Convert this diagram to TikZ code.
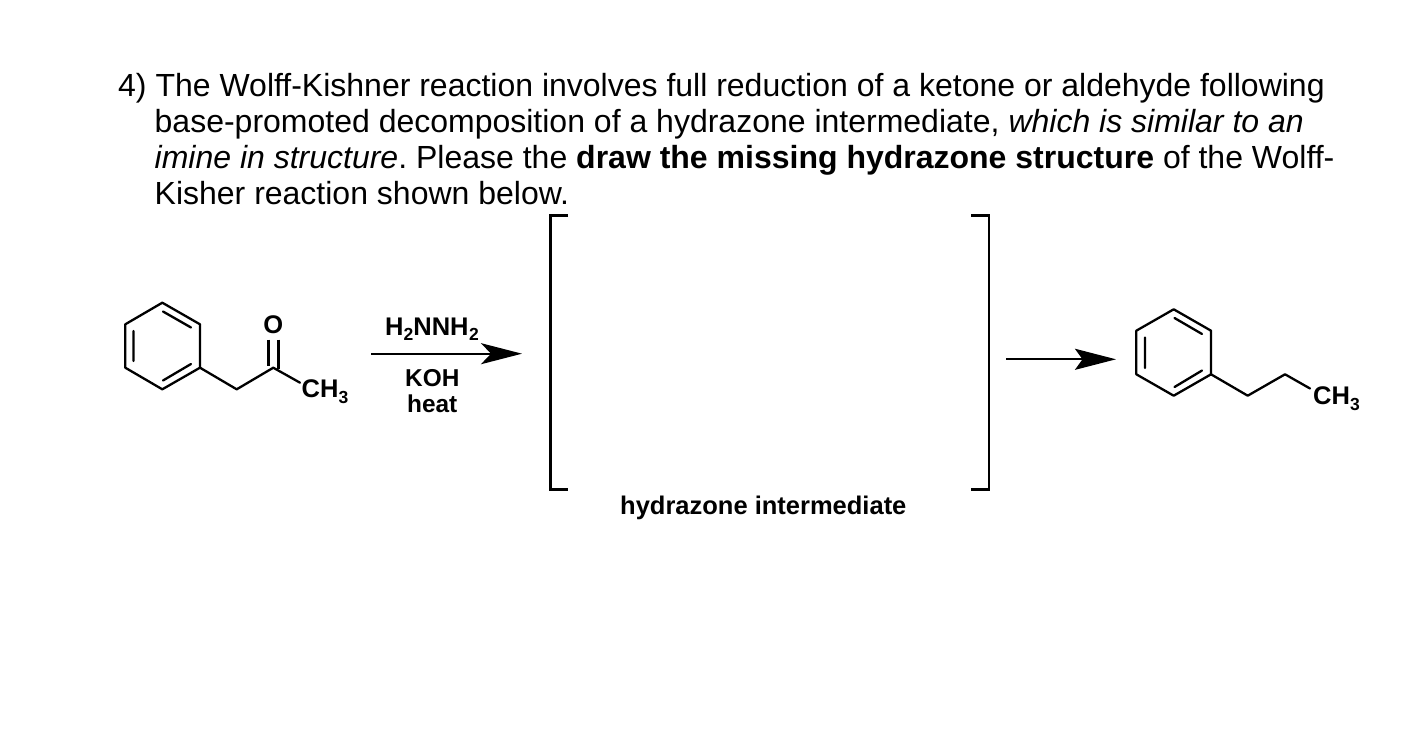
\documentclass[tikz,border=0pt]{standalone}
\usepackage{fontspec}
\setmainfont[RawFeature=-liga]{Liberation Sans}
\usetikzlibrary{arrows.meta}
\newcommand{\lowsub}[1]{\raisebox{-0.22em}{\fontsize{17.5}{18}\selectfont #1}}
\tikzset{
  x=1pt,y=-1pt,
  body/.style={anchor=base west,inner sep=0pt,font=\fontsize{32}{36}\selectfont},
  chem/.style={anchor=base west,inner sep=0pt,font=\fontsize{25.5}{28}\selectfont\bfseries},
  chemb/.style={anchor=base west,inner sep=0pt,font=\fontsize{24.4}{28}\selectfont\bfseries},
  bond/.style={line width=2.3pt,line cap=round,line join=round,black},
  bracket/.style={line width=2.6pt,line join=miter,black},
  bigarrow/.style={line width=2.3pt,-{Stealth[length=41pt,width=21pt,inset=10pt]}},
  midarrow/.style={line width=2.3pt,-{Stealth[length=41pt,width=21pt,inset=7.5pt]}}
}
\begin{document}
\frenchspacing
\begin{tikzpicture}
\useasboundingbox (0,0) rectangle (1420,738);
\fill[white] (0,0) rectangle (1420,738);
% question text
\node[body] (l1) at (118,96.5) {4) The Wolff-Kishner reaction involves full reduction of a ketone or aldehyde following};
\node[body] (l2) at (154.5,132.5) {base-promoted decomposition of a hydrazone intermediate, \itshape which is similar to an};
\node[body] (l3) at (154.5,168.5) {{\itshape imine in structure}. Please the {\bfseries draw the missing hydrazone structure} of the Wolff-};
\node[body] (l4) at (154.5,204.8) {Kisher reaction shown below.};
% left ring
\coordinate (a1) at (162.3,302.7);
\coordinate (a2) at (200,324.3);
\coordinate (a3) at (200,367.7);
\coordinate (a4) at (162.3,389.3);
\coordinate (a5) at (125.3,367.7);
\coordinate (a6) at (125.3,324.3);
\coordinate (a7) at (236.7,389.3);
\coordinate (a8) at (273.3,367.7);
\coordinate (a9) at (300,382.7);
\draw[bond] (a1)--(a2)--(a3)--(a4)--(a5)--(a6)--cycle;
\draw[bond] (a3)--(a7)--(a8)--(a9);
\coordinate (b1) at (163,311.5);\coordinate (b2) at (191,327.5);
\coordinate (b3) at (133.5,331);\coordinate (b4) at (133.5,361);
\coordinate (b5) at (163,380.5);\coordinate (b6) at (191,364);
\draw[bond] (b1)--(b2) (b3)--(b4) (b5)--(b6);
\node[chem,anchor=base] (oxy) at (273.3,333.5) {O};
\coordinate (c1) at (268.4,339.5);\coordinate (c2) at (268.4,366);
\coordinate (c3) at (278.4,339.5);\coordinate (c4) at (278.4,369);
\draw[bond,line cap=butt] (c1)--(c2) (c3)--(c4);
\node[chem] (me1) at (301.5,397.5) {CH\lowsub{3}};
% first arrow
\node[chem] (hy) at (385,335) {H\lowsub{2}NNH\kern0.5pt\lowsub{2}};
\node[chemb] (koh) at (405,386.5) {KOH};
\node[chemb] (heat) at (407,412.5) {heat};
\coordinate (r1s) at (371,353.7);\coordinate (r1e) at (522,353.7);
\draw[bigarrow] (r1s)--(r1e);
% brackets
\coordinate (p1) at (568,215.7);\coordinate (p2) at (550.7,215.7);
\coordinate (p3) at (550.7,489.3);\coordinate (p4) at (568,489.3);
\coordinate (q1) at (971,215.7);\coordinate (q2) at (989,215.7);
\coordinate (q3) at (989,489.3);\coordinate (q4) at (971,489.3);
\draw[bracket] (p1)--(p2)--(p3)--(p4);
\draw[bracket] (q1)--(q2)--(q3)--(q4);
\node[chem] (lab) at (620,514.5) {hydrazone intermediate};
% second arrow
\coordinate (r2s) at (1006,359.3);\coordinate (r2e) at (1116,359.3);
\draw[midarrow] (r2s)--(r2e);
% right ring
\coordinate (d1) at (1173.7,309.3);
\coordinate (d2) at (1211,330.7);
\coordinate (d3) at (1211,374.3);
\coordinate (d4) at (1173.7,395.7);
\coordinate (d5) at (1136.3,374.3);
\coordinate (d6) at (1136.3,330.7);
\coordinate (d7) at (1247.7,395.7);
\coordinate (d8) at (1285,374.3);
\coordinate (d9) at (1310,388.5);
\draw[bond] (d1)--(d2)--(d3)--(d4)--(d5)--(d6)--cycle;
\draw[bond] (d3)--(d7)--(d8)--(d9);
\coordinate (e1) at (1174.5,318);\coordinate (e2) at (1202,334);
\coordinate (e3) at (1145,337.5);\coordinate (e4) at (1145,368);
\coordinate (e5) at (1174.5,387);\coordinate (e6) at (1202,370.5);
\draw[bond] (e1)--(e2) (e3)--(e4) (e5)--(e6);
\node[chem] (me2) at (1313,404.5) {CH\lowsub{3}};
\end{tikzpicture}
\end{document}
